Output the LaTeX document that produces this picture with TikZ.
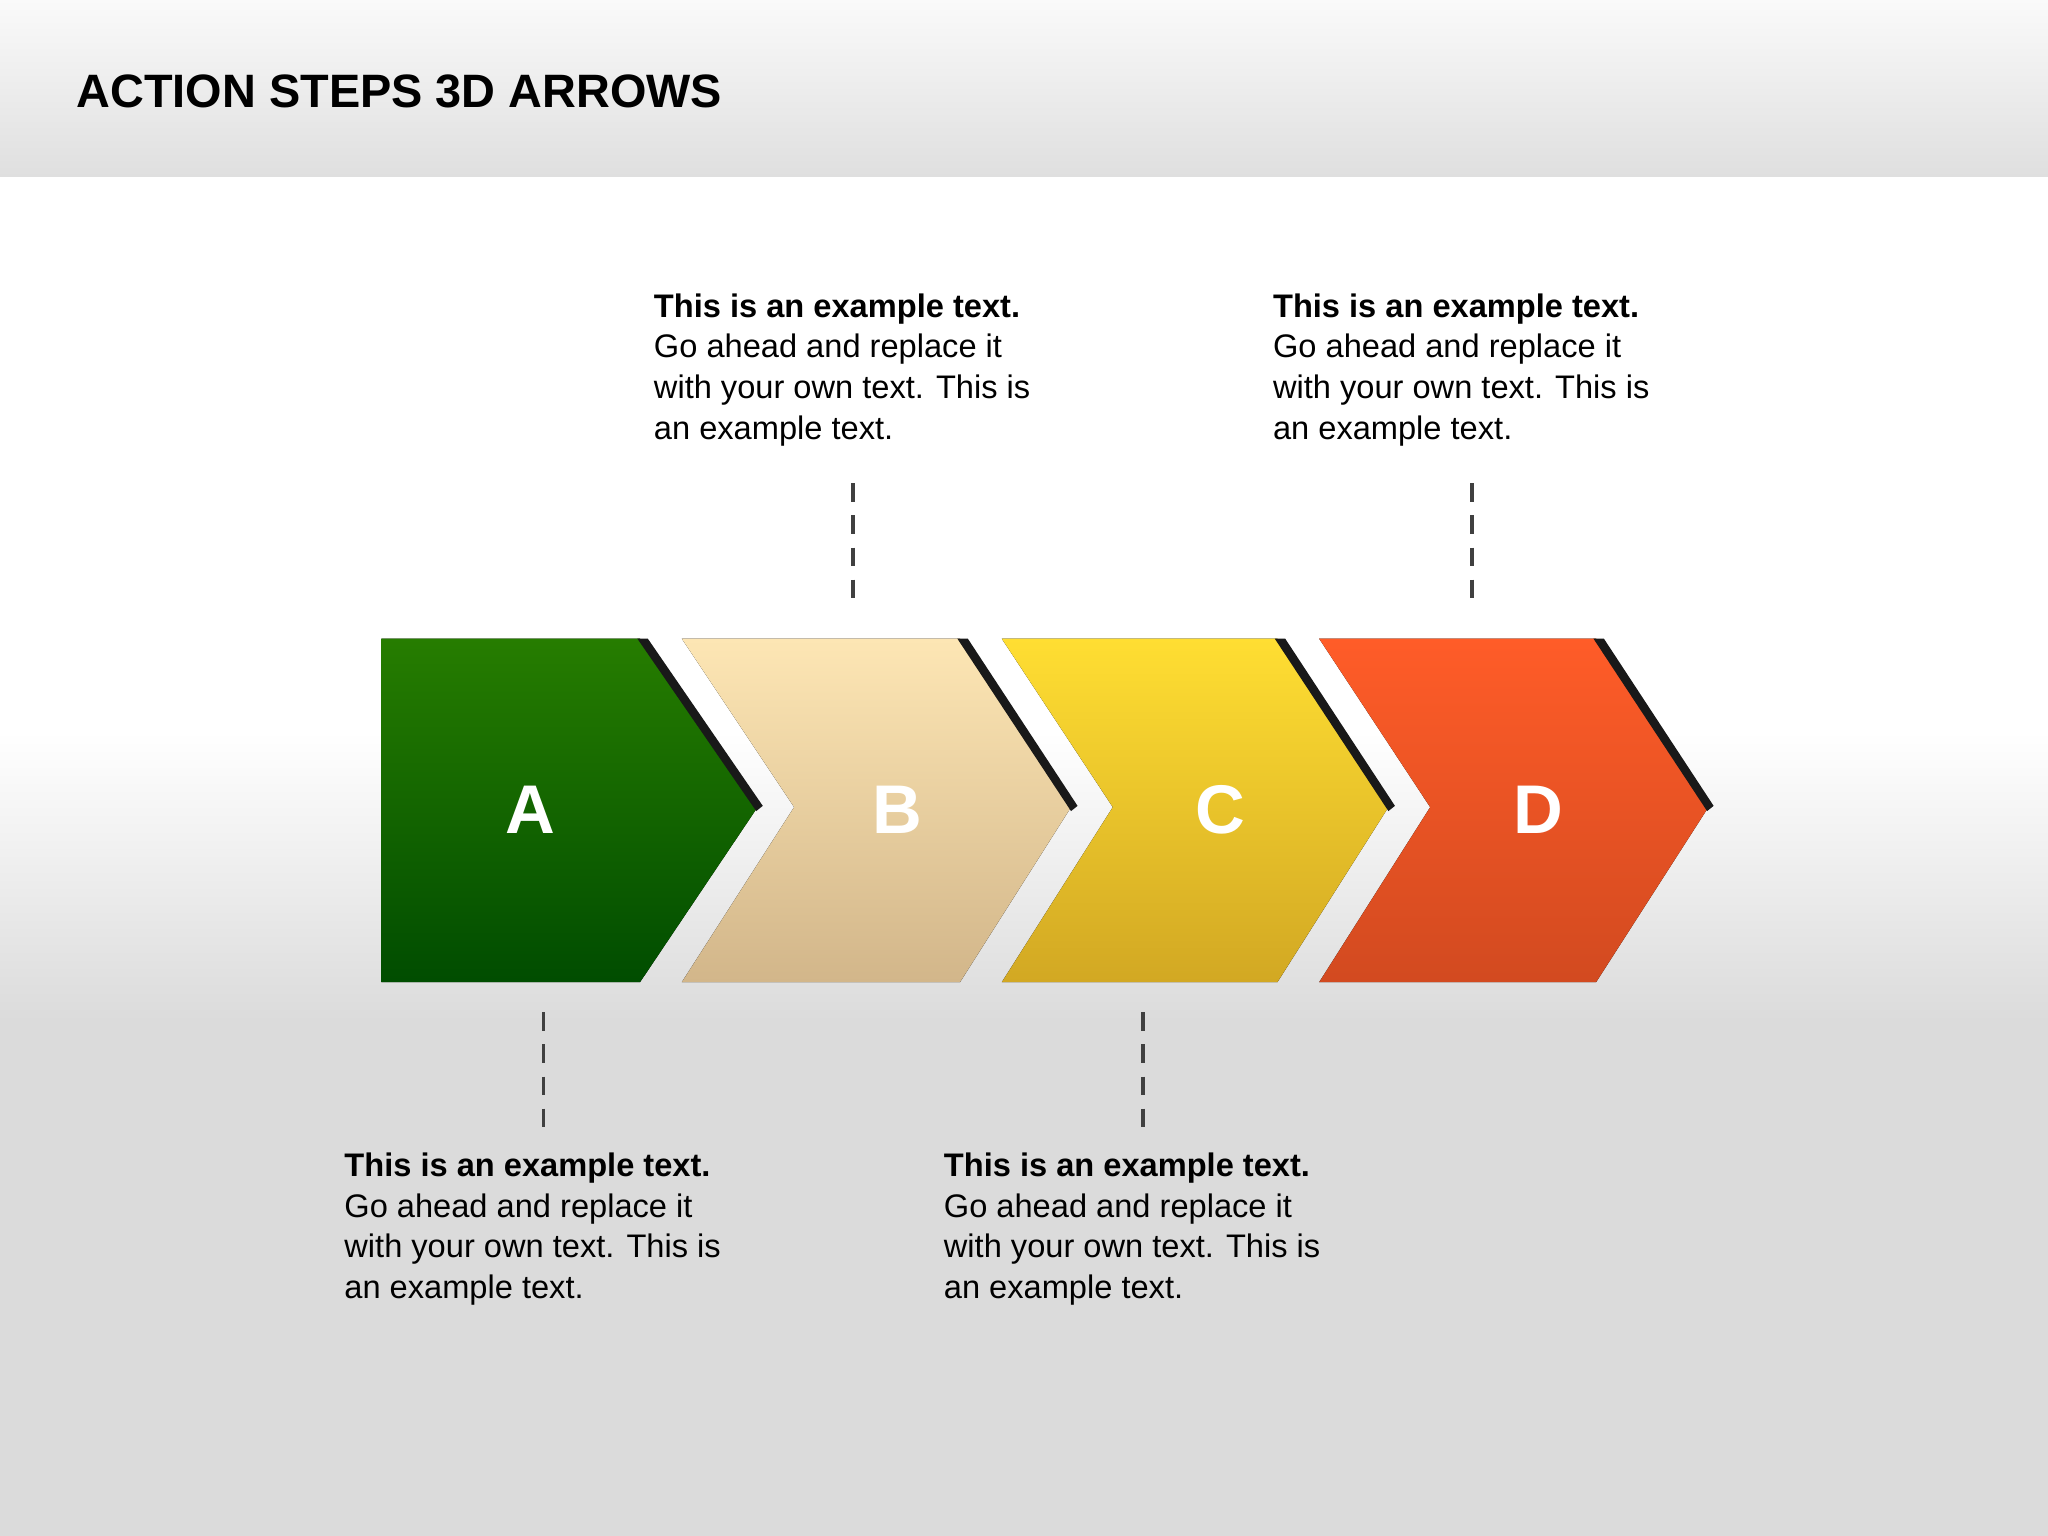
\documentclass[tikz,border=0pt]{standalone}
\usepackage{fontspec}
\setmainfont{Liberation Sans}
\begin{document}
\begin{tikzpicture}[x=0.01cm,y=-0.01cm,
  body/.style={anchor=north west,align=left,font=\fontsize{7.1}{8.85}\selectfont,inner sep=0pt},
  letter/.style={text=white,font=\fontsize{15}{15}\selectfont\bfseries},
  conn/.style={draw=black!75,dashed,line width=0.8pt,dash pattern=on 4pt off 3pt},
  edge3d/.style={fill=black!90}]
\useasboundingbox (0,0) rectangle (1568,1176);
% background
\fill[top color=white,bottom color=white] (0,135) rectangle (1568,560);
\fill[top color=white,bottom color=gray!28] (0,560) rectangle (1568,780);
\fill[gray!28] (0,780) rectangle (1568,1176);
\fill[top color=gray!4,bottom color=gray!25] (0,0) rectangle (1568,135);
\node[anchor=west,inner sep=0pt,font=\fontsize{10.2}{12}\selectfont\bfseries] (title) at (58,70) {ACTION STEPS 3D ARROWS};
% arrows
\fill[top color=green!40!black!85!yellow,bottom color=green!30!black] (292,489)--(490,489)--(580,618)--(490,752)--(292,752)--cycle;
\fill[edge3d] (488,489)--(496,489)--(584,617)--(579,621)--cycle;
\fill[top color={rgb,255:red,253;green,230;blue,180},bottom color={rgb,255:red,210;green,182;blue,138}] (522,489)--(735,489)--(820,618)--(735,752)--(522,752)--(608,618)--cycle;
\fill[edge3d] (733,489)--(741,489)--(825,617)--(820,621)--cycle;
\fill[top color={rgb,255:red,255;green,222;blue,50},bottom color={rgb,255:red,210;green,168;blue,35}] (767,489)--(978,489)--(1063,618)--(978,752)--(767,752)--(852,618)--cycle;
\fill[edge3d] (976,489)--(984,489)--(1068,617)--(1063,621)--cycle;
\fill[top color={rgb,255:red,255;green,92;blue,40},bottom color={rgb,255:red,210;green,74;blue,32}] (1010,489)--(1222,489)--(1308,618)--(1222,752)--(1010,752)--(1095,618)--cycle;
\fill[edge3d] (1220,489)--(1228,489)--(1312,617)--(1307,621)--cycle;
\node[letter] (A) at (406,620) {A};
\node[letter] (B) at (687,620) {B};
\node[letter] (C) at (934,620) {C};
\node[letter] (D) at (1178,620) {D};
% texts
\node[body] (tB) at (500,224) {\textbf{This is an example text.}\\Go ahead and replace it\\with your own text. This is\\an example text.};
\node[body] (tD) at (974,224) {\textbf{This is an example text.}\\Go ahead and replace it\\with your own text. This is\\an example text.};
\node[body] (tA) at (263,882) {\textbf{This is an example text.}\\Go ahead and replace it\\with your own text. This is\\an example text.};
\node[body] (tC) at (722,882) {\textbf{This is an example text.}\\Go ahead and replace it\\with your own text. This is\\an example text.};
% connectors
\coordinate (b1) at (653,370); \coordinate (b2) at (653,468);
\coordinate (d1) at (1127,370); \coordinate (d2) at (1127,468);
\coordinate (a1) at (416,775); \coordinate (a2) at (416,873);
\coordinate (c1) at (875,775); \coordinate (c2) at (875,873);
\draw[conn] (b1)--(b2); \draw[conn] (d1)--(d2);
\draw[conn] (a1)--(a2); \draw[conn] (c1)--(c2);
\end{tikzpicture}
\end{document}
